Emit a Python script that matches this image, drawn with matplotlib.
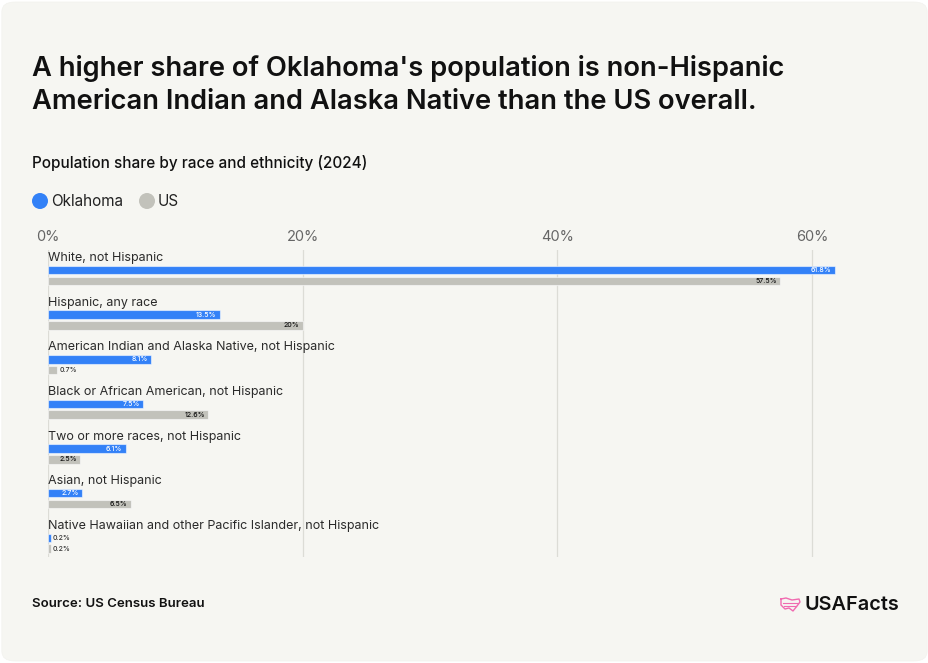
import matplotlib.pyplot as plt
from matplotlib.patches import FancyBboxPatch, Ellipse

plt.rcParams["font.family"] = ["Inter", "DejaVu Sans"]

categories = [
    "White, not Hispanic",
    "Hispanic, any race",
    "American Indian and Alaska Native, not Hispanic",
    "Black or African American, not Hispanic",
    "Two or more races, not Hispanic",
    "Asian, not Hispanic",
    "Native Hawaiian and other Pacific Islander, not Hispanic",
]
oklahoma = [61.8, 13.5, 8.1, 7.5, 6.1, 2.7, 0.2]
us = [57.5, 20, 0.7, 12.6, 2.5, 6.5, 0.2]
ticks = [0, 20, 40, 60]

W, H = 929, 663
blue = "#3381f7"
gray = "#c2c2bb"
bg = "#f6f6f2"


def fx(x):
    return x / W


def fy(y):
    return 1 - y / H


fig = plt.figure(figsize=(W / 100, H / 100), dpi=100, facecolor="white")
card = FancyBboxPatch((0.002, 0.003), 0.996, 0.994,
                      boxstyle="round,pad=0,rounding_size=0.014",
                      transform=fig.transFigure, facecolor=bg,
                      edgecolor="#f1f1ec", linewidth=0.4, zorder=-10)
fig.patches.append(card)

fig.text(fx(32), fy(76), "A higher share of Oklahoma's population is non-Hispanic",
         fontsize=19.7, fontweight="semibold", va="baseline", color="#111111")
fig.text(fx(32), fy(109), "American Indian and Alaska Native than the US overall.",
         fontsize=19.7, fontweight="semibold", va="baseline", color="#111111")
fig.text(fx(32), fy(168), "Population share by race and ethnicity (2024)",
         fontsize=11, fontweight="medium", va="baseline", color="#111111")

# legend
for cx, col in [(40, blue), (147, gray)]:
    fig.patches.append(Ellipse((fx(cx), fy(201)), 16 / W, 16 / H,
                               transform=fig.transFigure,
                               facecolor=col, edgecolor="none"))
fig.text(fx(51), fy(201), "Oklahoma", fontsize=11, va="center", color="#222222")
fig.text(fx(158), fy(201), "US", fontsize=11, va="center", color="#222222")

ppu = 12.733
ax = fig.add_axes([fx(48), fy(557), 65 * ppu / W, 307 / H])
ax.set_xlim(0, 65)
ax.set_ylim(6.70, -0.18)
ax.set_facecolor("none")
ax.axis("off")

for t in ticks:
    ax.axvline(t, color="#dcdcd6", lw=0.9, zorder=0)
    ax.text(t, (557 - 237) / 307, f"{t}%", transform=ax.get_xaxis_transform(),
            ha="center", va="center", fontsize=10.5, color="#666666")

bh = 0.19
for i, (cat, o, u) in enumerate(zip(categories, oklahoma, us)):
    ax.text(0, i, cat, ha="left", va="center", fontsize=9, color="#2a2a2a")
    for y, v, col, tcol in [(i + 0.27, o, blue, "white"), (i + 0.51, u, gray, "#111111")]:
        ax.barh(y, v, height=bh, color=col, edgecolor=(1, 1, 1, 0.55), linewidth=0.8, zorder=2)
        lab = f"{v:g}%"
        if v >= 1:
            ax.text(v - 0.25, y, lab, ha="right", va="center", fontsize=5,
                    fontweight="medium", color=tcol, zorder=3)
        else:
            ax.text(v + 0.2, y, lab, ha="left", va="center", fontsize=5,
                    fontweight="medium", color="#333333", zorder=3)

fig.text(fx(32), fy(604), "Source: US Census Bureau", fontsize=9.5,
         fontweight="semibold", va="center", color="#111111")

# logo
fig.text(fx(805), fy(605), "USAFacts", fontsize=14.3, fontweight="semibold",
         va="center", ha="left", color="#111111")
lx = [fx(v) for v in [781, 786, 792, 799, 800, 797, 793, 789, 785, 781, 781]]
ly = [fy(v) for v in [599, 598, 600, 599, 602, 606, 611, 608, 609, 605, 599]]
fig.add_artist(plt.Line2D(lx, ly, color="#f06bb0", lw=1.0, transform=fig.transFigure))
fig.add_artist(plt.Line2D([fx(783), fx(798)], [fy(603), fy(603)], color="#f06bb0",
                          lw=0.8, transform=fig.transFigure))
fig.add_artist(plt.Line2D([fx(784), fx(796)], [fy(606), fy(606)], color="#f06bb0",
                          lw=0.8, transform=fig.transFigure))

fig.savefig("out.png", dpi=100, facecolor="white")
